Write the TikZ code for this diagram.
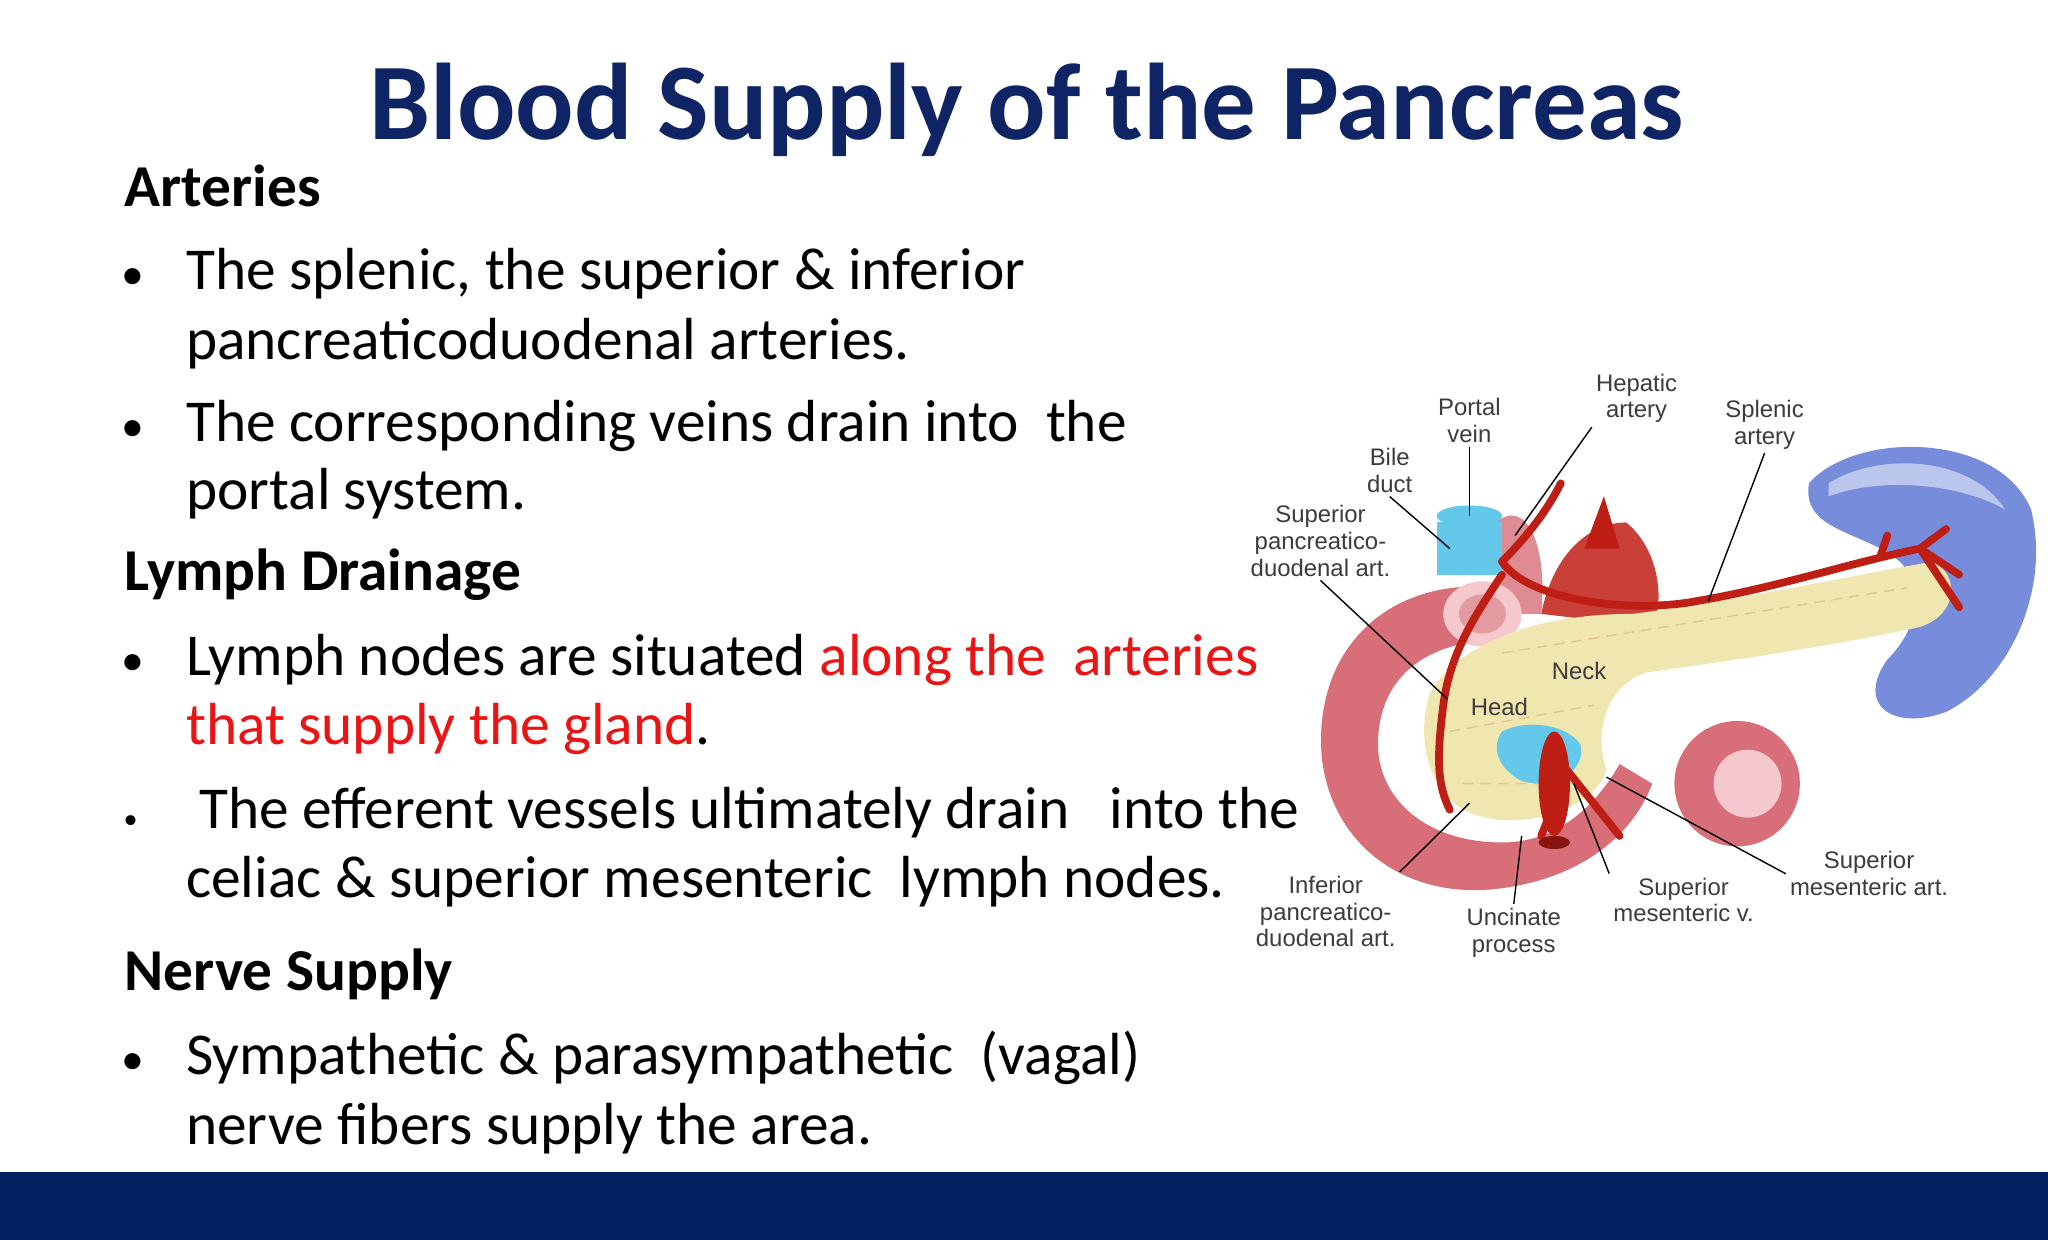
\documentclass[tikz,border=0pt]{standalone}
\usepackage{fontspec}
\setmainfont{Carlito}
\newfontfamily\lab{Liberation Sans}
\definecolor{navy}{RGB}{15,36,100}
\definecolor{barc}{RGB}{0,32,96}
\definecolor{redt}{RGB}{235,20,20}
\definecolor{duo}{RGB}{215,110,120}
\definecolor{duol}{RGB}{245,200,205}
\definecolor{panc}{RGB}{240,230,175}
\definecolor{art}{RGB}{190,30,20}
\definecolor{spl}{RGB}{120,140,220}
\definecolor{vein}{RGB}{100,200,235}
\definecolor{labc}{RGB}{60,60,60}
\begin{document}
\begin{tikzpicture}[x=0.013061cm,y=-0.013061cm,
 body/.style={anchor=base west,font=\fontsize{16.9}{19}\selectfont,inner sep=0},
 head/.style={body,font=\fontsize{16.9}{19}\selectfont\bfseries},
 bul/.style={anchor=base,font=\fontsize{13}{15}\selectfont,inner sep=0},
 lbl/.style={font=\lab\fontsize{6.8}{7.6}\selectfont,text=labc,align=center,inner sep=1pt},
 lead/.style={draw=black,line width=0.4pt},
 artl/.style={draw=art,line width=2.2pt,line cap=round}]
\useasboundingbox (0,0) rectangle (1568,949);
\fill[white] (0,0) rectangle (1568,949);
\fill[barc] (0,897) rectangle (1568,949);
\node[anchor=base,font=\fontsize{31}{34}\selectfont\bfseries,text=navy,inner sep=0] (title) at (786,107) {Blood Supply of the Pancreas};
% text
\node[head] (h1) at (95,158) {Arteries};
\node[bul] (b1) at (102,222) {•};
\node[body] (t1) at (142,222) {The splenic, the superior \& inferior};
\node[body] (t1b) at (142,275) {pancreaticoduodenal arteries.};
\node[bul] (b2) at (102,338) {•};
\node[body] (t2) at (142,338) {The corresponding veins drain into\ \ the};
\node[body] (t2b) at (142,390) {portal system.};
\node[head] (h2) at (95,452) {Lymph Drainage};
\node[bul] (b3) at (102,517) {•};
\node[body] (t3) at (142,517) {Lymph nodes are situated \textcolor{redt}{along the\ \ arteries}};
\node[body] (t3b) at (142,570) {\textcolor{redt}{that supply the gland}.};
\node[bul,font=\fontsize{8}{10}\selectfont] (b4) at (100,634) {•};
\node[body] (t4) at (152,634) {The\ efferent\ vessels\ ultimately\ drain\ \ \ into\ the};
\node[body] (t4b) at (142,687) {celiac \& superior mesenteric\ \ lymph nodes.};
\node[head] (h3) at (95,758) {Nerve Supply};
\node[bul] (b5) at (102,823) {•};
\node[body] (t5) at (142,823) {Sympathetic \& parasympathetic\ \ (vagal)};
\node[body] (t5b) at (142,876) {nerve fibers supply the area.};
% diagram
\fill[art!85] (1180,470) .. controls (1190,420) and (1220,400) .. (1245,400) .. controls (1270,420) and (1275,460) .. (1265,480) -- cycle;
\fill[duo!80] (1145,400) .. controls (1170,380) and (1185,420) .. (1180,470) -- (1150,470) -- cycle;
% spleen
\fill[spl] (1385,370) .. controls (1420,330) and (1530,330) .. (1555,390) .. controls (1570,450) and (1540,520) .. (1490,545) .. controls (1450,560) and (1420,540) .. (1445,505) .. controls (1470,480) and (1480,440) .. (1440,420) .. controls (1410,405) and (1380,400) .. (1385,370) -- cycle;
\fill[spl!50] (1400,370) .. controls (1440,345) and (1510,350) .. (1535,390) .. controls (1500,370) and (1440,365) .. (1400,380) -- cycle;
% jejunum loop
\fill[duo] (1330,600) circle (48);
\fill[duol] (1338,600) circle (26);
% duodenum C
\fill[duo] (1150,450) .. controls (1060,440) and (1005,500) .. (1012,580) .. controls (1020,650) and (1080,690) .. (1150,680) .. controls (1210,672) and (1250,640) .. (1265,600) -- (1240,585) .. controls (1220,620) and (1190,645) .. (1150,645) .. controls (1090,645) and (1055,610) .. (1055,570) .. controls (1055,520) and (1090,490) .. (1150,490) -- cycle;
\fill[duol] (1135,470) ellipse (30 and 25);
\fill[duo!70] (1135,470) ellipse (18 and 15);
% pancreas
\fill[panc] (1095,530) .. controls (1120,490) and (1180,470) .. (1250,470) .. controls (1330,460) and (1420,440) .. (1480,430) .. controls (1500,440) and (1500,470) .. (1470,480) .. controls (1400,495) and (1330,505) .. (1260,515) .. controls (1230,525) and (1220,560) .. (1230,590) .. controls (1220,620) and (1160,640) .. (1120,620) .. controls (1090,600) and (1085,560) .. (1095,530) -- cycle;
\draw[panc!70!brown,line width=0.4pt,dash pattern=on 3pt off 2pt] (1110,560) -- (1220,540) (1150,500) -- (1460,450) (1120,600) -- (1210,600);
% portal vein / SMV
\fill[vein] (1100,400) rectangle (1150,440);
\fill[vein] (1125,395) ellipse (25 and 8);
\fill[vein] (1150,560) .. controls (1170,550) and (1200,555) .. (1210,570) .. controls (1215,590) and (1190,605) .. (1165,598) .. controls (1150,590) and (1140,575) .. (1150,560) -- cycle;
% arteries
\draw[artl] (1150,430) .. controls (1170,410) and (1185,390) .. (1195,370);
\draw[artl] (1150,430) .. controls (1170,460) and (1250,470) .. (1300,460) .. controls (1360,450) and (1420,430) .. (1470,420) -- (1500,440);
\draw[artl] (1470,420) -- (1490,405) (1470,420) -- (1500,465) (1440,425) -- (1445,410);
\draw[artl] (1150,440) .. controls (1130,470) and (1110,500) .. (1105,540) .. controls (1100,580) and (1100,600) .. (1110,620);
\draw[artl] (1200,590) -- (1240,640) (1200,590) -- (1180,640);
\fill[art] (1190,600) ellipse (12 and 40);
\fill[art!70!black] (1190,645) ellipse (12 and 5);
\fill[art] (1213,420) -- (1228,380) -- (1240,420) -- cycle;
% labels
\coordinate (pv) at (1125,395); \coordinate (bd) at (1110,420); \coordinate (ha) at (1160,410);
\coordinate (sa) at (1308,460); \coordinate (spa) at (1108,535); \coordinate (ipa) at (1125,615);
\coordinate (up) at (1165,640); \coordinate (smv) at (1205,600); \coordinate (sma) at (1230,595);
\node[lbl] (Lpv) at (1125,322) {Portal\\vein};
\node[lbl] (Lha) at (1253,305) {Hepatic\\artery};
\node[lbl] (Lsa) at (1351,325) {Splenic\\artery};
\node[lbl] (Lbd) at (1064,360) {Bile\\duct};
\node[lbl] (Lspa) at (1011,414) {Superior\\pancreatico-\\duodenal art.};
\node[lbl] (Lneck) at (1209,514) {Neck};
\node[lbl] (Lhead) at (1148,541) {Head};
\node[lbl] (Lipa) at (1015,698) {Inferior\\pancreatico-\\duodenal art.};
\node[lbl] (Lup) at (1159,714) {Uncinate\\process};
\node[lbl] (Lsmv) at (1289,689) {Superior\\mesenteric v.};
\node[lbl] (Lsma) at (1431,669) {Superior\\mesenteric art.};
\draw[lead] (Lpv.south) -- (pv);
\draw[lead] (Lha.south west) -- (ha);
\draw[lead] (Lsa.south) -- (sa);
\draw[lead] (Lbd.south) -- (bd);
\draw[lead] (Lspa.south) -- (spa);
\draw[lead] (Lipa.north east) -- (ipa);
\draw[lead] (Lup.north) -- (up);
\draw[lead] (Lsmv.north west) -- (smv);
\draw[lead] (Lsma.west) -- (sma);
\end{tikzpicture}
\end{document}
